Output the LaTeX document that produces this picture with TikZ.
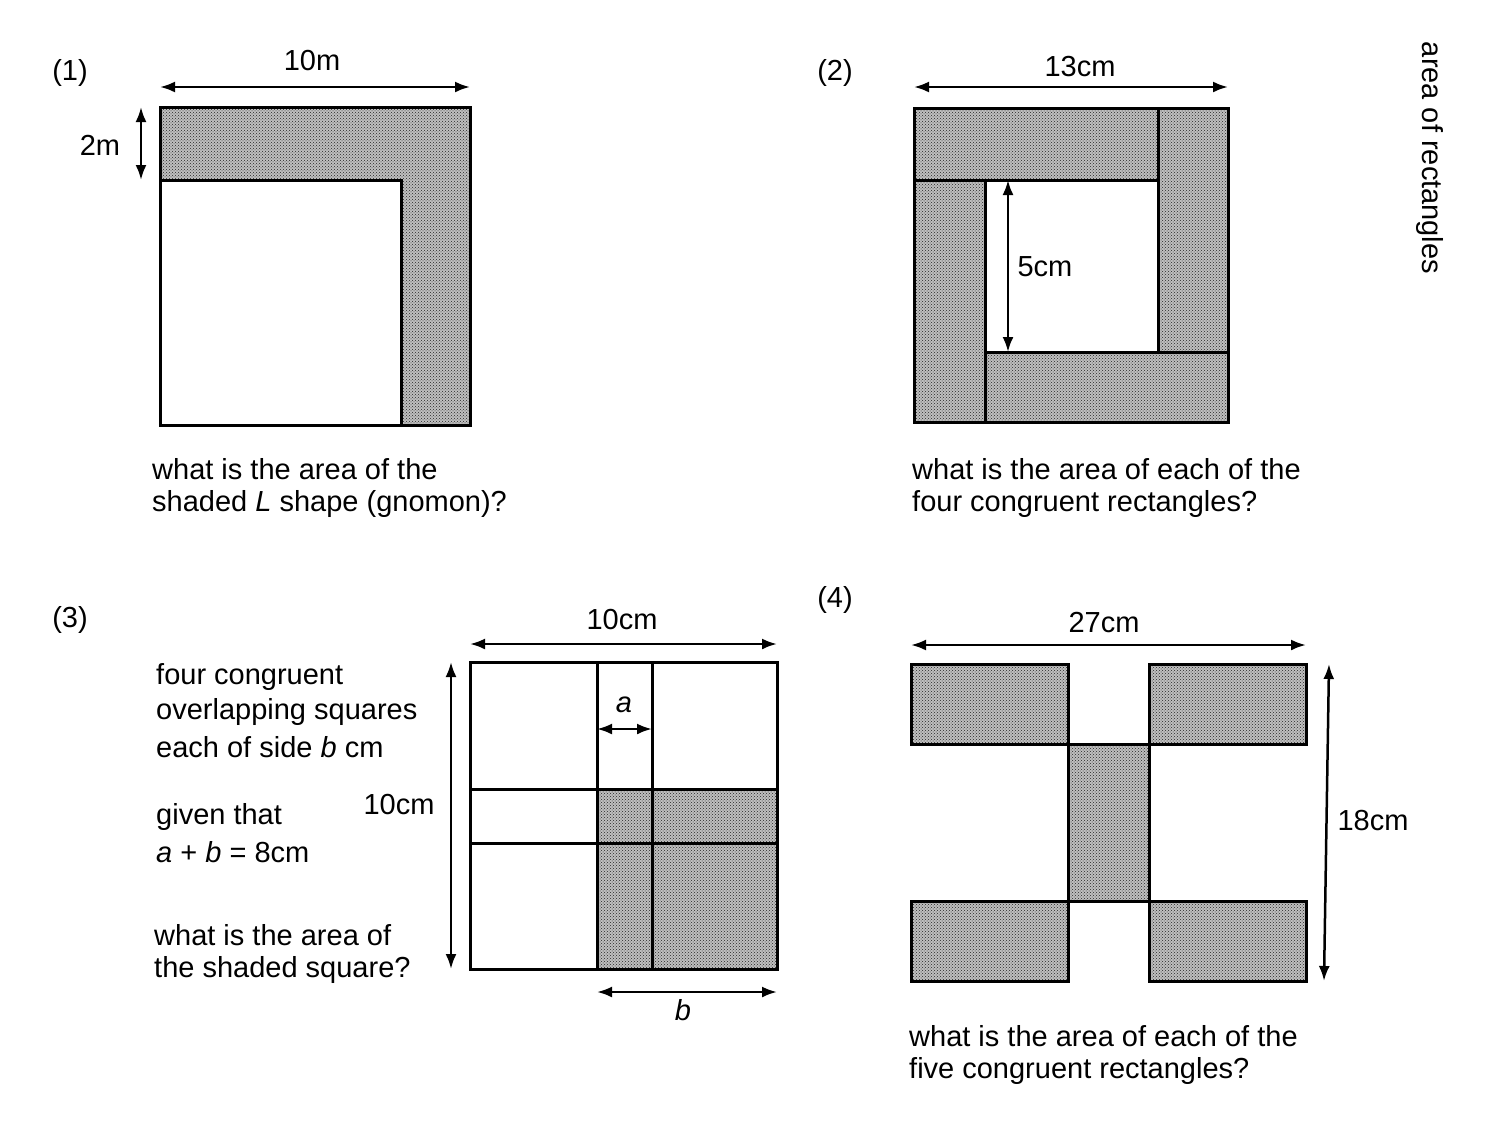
\documentclass[tikz,border=0pt]{standalone}
\usepackage{fontspec}
\setmainfont{Liberation Sans}
\usetikzlibrary{patterns,arrows.meta}
\begin{document}
\begin{tikzpicture}[x=1pt,y=-1pt,
  shade/.style={fill=gray!50,postaction={pattern=crosshatch dots,pattern color=black!85}},
  box/.style={draw,line width=3pt},
  dim/.style={line width=2.5pt,{Latex[length=15pt,width=11pt]}-{Latex[length=15pt,width=11pt]}},
  lbl/.style={font=\fontsize{29}{35}\selectfont,inner sep=0pt},
  txt/.style={font=\fontsize{29}{35}\selectfont,inner sep=0pt,anchor=west}]
\useasboundingbox (0,0) rectangle (1500,1125);
% (1)
\node[lbl] (n1) at (70,73) {(1)};
\fill[shade] (160,107)--(470,107)--(470,425)--(401,425)--(401,180)--(160,180)--cycle;
\draw[box] (160,107) rectangle (470,425);
\draw[box] (160,180)--(401,180)--(401,425);
\coordinate (a1) at (160,87); \coordinate (a2) at (470,87);
\draw[dim] (a1)--(a2);
\node[lbl] (l10m) at (312,61) {10m};
\coordinate (b1) at (141,107); \coordinate (b2) at (141,180);
\draw[dim] (b1)--(b2);
\node[lbl] (l2m) at (100,145) {2m};
\node[txt] (t1a) at (152,469) {what is the area of the};
\node[txt] (t1b) at (152,504) {shaded \textit{L} shape (gnomon)?};
% (2)
\node[lbl] (n2) at (835,73) {(2)};
\fill[shade] (914,108) rectangle (1228,422);
\fill[white] (985,180) rectangle (1158,352);
\draw[box] (914,108) rectangle (1228,422);
\draw[box] (914,180)--(1158,180)--(1158,108);
\draw[box] (1158,180)--(1158,352)--(985,352);
\draw[box] (985,180)--(985,422);
\draw[box] (1158,352)--(1228,352);
\coordinate (c1) at (914,87); \coordinate (c2) at (1228,87);
\draw[dim] (c1)--(c2);
\node[lbl] (l13) at (1080,67) {13cm};
\coordinate (d1) at (1008,180); \coordinate (d2) at (1008,352);
\draw[dim] (d1)--(d2);
\node[lbl] (l5) at (1045,267) {5cm};
\node[txt] (t2a) at (912,469) {what is the area of each of the};
\node[txt] (t2b) at (912,504) {four congruent rectangles?};
\node[lbl,rotate=-90] (side) at (1430,158) {area of rectangles};
% (3)
\node[lbl] (n3) at (70,620) {(3)};
\fill[shade] (597,789) rectangle (777,969);
\draw[box] (470,662) rectangle (777,969);
\draw[box] (597,662)--(597,969);
\draw[box] (652,662)--(652,969);
\draw[box] (470,789)--(777,789);
\draw[box] (470,843)--(777,843);
\coordinate (e1) at (470,644); \coordinate (e2) at (777,644);
\draw[dim] (e1)--(e2);
\node[lbl] (l10a) at (622,620) {10cm};
\coordinate (f1) at (451,662); \coordinate (f2) at (451,969);
\draw[dim] (f1)--(f2);
\node[lbl] (l10b) at (399,805) {10cm};
\coordinate (g1) at (597,729); \coordinate (g2) at (652,729);
\draw[dim] (g1)--(g2);
\node[lbl] (la) at (624,705) {\textit{a}};
\coordinate (h1) at (597,992); \coordinate (h2) at (777,992);
\draw[dim] (h1)--(h2);
\node[lbl] (lb) at (683,1010) {\textit{b}};
\node[txt] (t3a) at (156,677) {four congruent};
\node[txt] (t3b) at (156,712) {overlapping squares};
\node[txt] (t3c) at (156,747) {each of side \textit{b} cm};
\node[txt] (t3d) at (156,817) {given that};
\node[txt] (t3e) at (156,852) {\textit{a} + \textit{b} = 8cm};
\node[txt] (t3f) at (154,935) {what is the area of};
\node[txt] (t3g) at (154,970) {the shaded square?};
% (4)
\node[lbl] (n4) at (835,600) {(4)};
\foreach \a/\b/\c/\d in {911/664/1068/744,1149/664/1306/744,1068/744/1149/901,911/901/1068/981,1149/901/1306/981}{
  \fill[shade] (\a,\b) rectangle (\c,\d);
  \draw[box] (\a,\b) rectangle (\c,\d);
}
\coordinate (i1) at (911,645); \coordinate (i2) at (1306,645);
\draw[dim] (i1)--(i2);
\node[lbl] (l27) at (1104,623) {27cm};
\coordinate (j1) at (1329,664); \coordinate (j2) at (1324,981);
\draw[dim] (j1)--(j2);
\node[lbl] (l18) at (1373,821) {18cm};
\node[txt] (t4a) at (909,1036) {what is the area of each of the};
\node[txt] (t4b) at (909,1071) {five congruent rectangles?};
\end{tikzpicture}
\end{document}
